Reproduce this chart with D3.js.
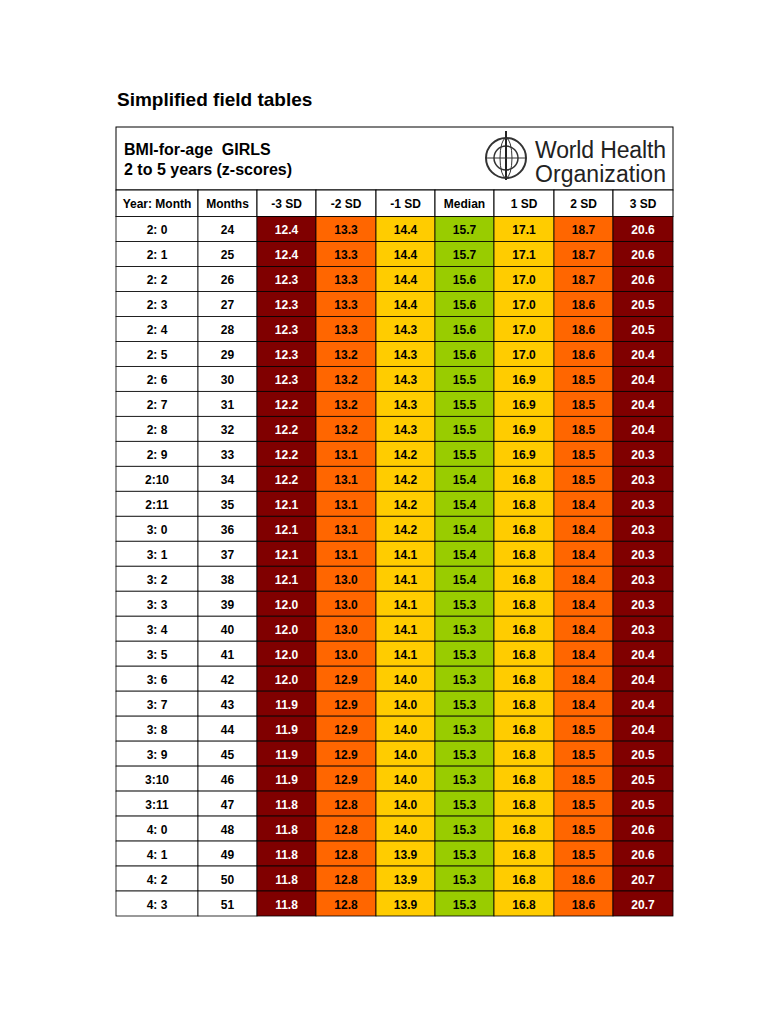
<!DOCTYPE html><html><head><script src="https://cdn.jsdelivr.net/npm/d3@7"></script>
<style>body{margin:0;background:#fff}text{white-space:pre}</style></head><body><svg id="c" width="768" height="1024"></svg>
<script>
const yearMonth=["2: 0","2: 1","2: 2","2: 3","2: 4","2: 5","2: 6","2: 7","2: 8","2: 9","2:10","2:11","3: 0","3: 1","3: 2","3: 3","3: 4","3: 5","3: 6","3: 7","3: 8","3: 9","3:10","3:11","4: 0","4: 1","4: 2","4: 3"];
const months=d3.range(24,52);
const columns=["Year: Month","Months","-3 SD","-2 SD","-1 SD","Median","1 SD","2 SD","3 SD"];
const sdM3=[12.4,12.4,12.3,12.3,12.3,12.3,12.3,12.2,12.2,12.2,12.2,12.1,12.1,12.1,12.1,12.0,12.0,12.0,12.0,11.9,11.9,11.9,11.9,11.8,11.8,11.8,11.8,11.8];
const sdM2=[13.3,13.3,13.3,13.3,13.3,13.2,13.2,13.2,13.2,13.1,13.1,13.1,13.1,13.1,13.0,13.0,13.0,13.0,12.9,12.9,12.9,12.9,12.9,12.8,12.8,12.8,12.8,12.8];
const sdM1=[14.4,14.4,14.4,14.4,14.3,14.3,14.3,14.3,14.3,14.2,14.2,14.2,14.2,14.1,14.1,14.1,14.1,14.1,14.0,14.0,14.0,14.0,14.0,14.0,14.0,13.9,13.9,13.9];
const median=[15.7,15.7,15.6,15.6,15.6,15.6,15.5,15.5,15.5,15.5,15.4,15.4,15.4,15.4,15.4,15.3,15.3,15.3,15.3,15.3,15.3,15.3,15.3,15.3,15.3,15.3,15.3,15.3];
const sd1=[17.1,17.1,17.0,17.0,17.0,17.0,16.9,16.9,16.9,16.9,16.8,16.8,16.8,16.8,16.8,16.8,16.8,16.8,16.8,16.8,16.8,16.8,16.8,16.8,16.8,16.8,16.8,16.8];
const sd2=[18.7,18.7,18.7,18.6,18.6,18.6,18.5,18.5,18.5,18.5,18.5,18.4,18.4,18.4,18.4,18.4,18.4,18.4,18.4,18.4,18.5,18.5,18.5,18.5,18.5,18.5,18.6,18.6];
const sd3=[20.6,20.6,20.6,20.5,20.5,20.4,20.4,20.4,20.4,20.3,20.3,20.3,20.3,20.3,20.3,20.3,20.3,20.4,20.4,20.4,20.4,20.5,20.5,20.5,20.6,20.6,20.7,20.7];
const colFills=["#fff","#fff","#800000","#ff6600","#ffcc00","#99cc00","#ffcc00","#ff6600","#800000"];
const colText=["#000","#000","#fff","#000","#000","#000","#000","#000","#fff"];
const svg=d3.select("#c");
const F="Liberation Sans, Arial, sans-serif";
svg.append("text").attr("x",117).attr("y",106).attr("font-family",F).attr("font-weight","bold").attr("font-size",19).text("Simplified field tables");
const edges=[116,198,257,316,376,435,494,554,613,673];
const x=i=>edges[i], w=i=>edges[i+1]-edges[i];
const y=d3.scaleBand().domain(d3.range(28)).range([216.5,916]);
const data=yearMonth.map((ym,i)=>[ym,months[i],sdM3[i],sdM2[i],sdM1[i],median[i],sd1[i],sd2[i],sd3[i]]);
svg.append("rect").attr("x",116).attr("y",127).attr("width",557).attr("height",63).attr("fill","#fff").attr("stroke","#000");
svg.append("text").attr("x",124).attr("y",155).attr("font-family",F).attr("font-weight","bold").attr("font-size",16).text("BMI-for-age  GIRLS");
svg.append("text").attr("x",124).attr("y",175).attr("font-family",F).attr("font-weight","bold").attr("font-size",16).text("2 to 5 years (z-scores)");
const lg=svg.append("g").attr("transform","translate(506,158)");
lg.append("circle").attr("r",20).attr("fill","none").attr("stroke","#333").attr("stroke-width",2);
lg.append("circle").attr("r",12).attr("fill","none").attr("stroke","#333").attr("stroke-width",1.5);
lg.append("line").attr("x1",0).attr("x2",0).attr("y1",-27).attr("y2",22).attr("stroke","#222").attr("stroke-width",2);
lg.append("ellipse").attr("rx",6).attr("ry",20).attr("fill","none").attr("stroke","#333");
lg.append("line").attr("x1",-20).attr("x2",20).attr("y1",0).attr("y2",0).attr("stroke","#333");
svg.append("text").attr("x",535).attr("y",158).attr("font-family","Liberation Sans Narrow, Arial Narrow, sans-serif").attr("font-size",23).attr("textLength",131).attr("fill","#222").text("World Health");
svg.append("text").attr("x",535).attr("y",182).attr("font-family","Liberation Sans Narrow, Arial Narrow, sans-serif").attr("font-size",23).attr("textLength",131).attr("fill","#222").text("Organization");
columns.forEach((c,i)=>{
 svg.append("rect").attr("x",x(i)).attr("y",190).attr("width",w(i)).attr("height",26.5).attr("fill","#fff").attr("stroke","#000");
 svg.append("text").attr("x",x(i)+w(i)/2).attr("y",208).attr("text-anchor","middle").attr("font-family",F).attr("font-weight","bold").attr("font-size",12).text(c);
});
const rows=svg.selectAll("g.r").data(data).join("g").attr("class","r").attr("transform",(d,i)=>`translate(0,${y(i)})`);
columns.forEach((c,j)=>{
 rows.append("rect").attr("x",x(j)).attr("width",w(j)).attr("height",y.bandwidth()).attr("fill",colFills[j]).attr("stroke","#000").attr("stroke-width",0.8);
 rows.append("text").attr("x",x(j)+w(j)/2).attr("y",y.bandwidth()/2+5).attr("text-anchor","middle").attr("font-family",F).attr("font-weight","bold").attr("font-size",12).attr("fill",colText[j])
  .text(d=>j<2?d[j]:d[j].toFixed(1));
});
</script></body></html>
